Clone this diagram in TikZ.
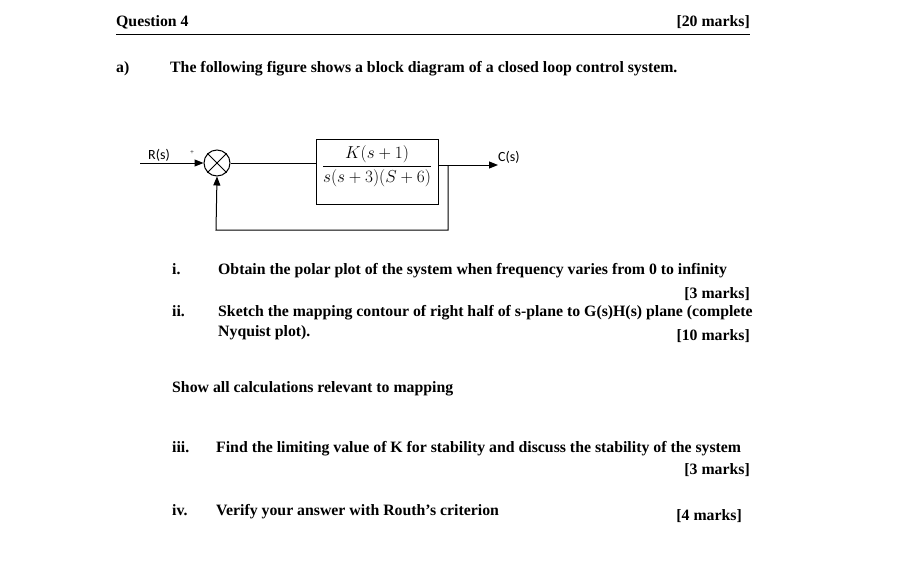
\documentclass[tikz,border=0pt]{standalone}
\usepackage{amsmath}
\usepackage{fontspec}
\setmainfont{Liberation Serif}
\newfontfamily\labfont{Carlito}
\usetikzlibrary{arrows.meta}
\begin{document}
\begin{tikzpicture}[x=1pt,y=-1pt,
  txt/.style={anchor=base west,inner sep=0pt,font=\fontsize{15.8}{18}\selectfont\bfseries},
  lab/.style={anchor=base west,inner sep=0pt,font=\labfont\fontsize{14}{16}\selectfont},
  sig/.style={line width=1pt,-{Triangle[length=9pt,width=7pt]}},
  ln/.style={line width=1pt}]
\useasboundingbox[fill=white] (0,0) rectangle (899,570);
\node[txt] (q) at (116,27) {Question 4};
\node[txt,anchor=base east] (m) at (750,27) {[20 marks]};
\draw[line width=0.8pt] (116,34) -- (750,34);
\node[txt] (a) at (116,72) {a)};
\node[txt] (t) at (170,72) {The following figure shows a block diagram of a closed loop control system.};
% block diagram
\coordinate (in) at (140,163);
\node[draw,circle,minimum size=26pt,inner sep=0pt,line width=1pt] (sum) at (217,163) {};
\draw[line width=1pt] (sum.north west) -- (sum.south east) (sum.north east) -- (sum.south west);
\node[draw,line width=1pt,minimum width=122pt,minimum height=65pt,inner sep=0pt] (G) at (377,172) {};
\node[font=\fontsize{17}{20}\selectfont] (frac) at (377,166) {$\dfrac{K(s+1)}{s(s+3)(S+6)}$};
\coordinate (br) at (448,165);
\coordinate (out) at (498,165);
\coordinate (bot) at (216,230);
\draw[sig] (in) -- (sum.west);
\draw[ln] (sum.east) -- (G.west |- sum.east);
\draw[ln] (G.east |- br) -- (br);
\draw[sig] (br) -- (out);
\draw[sig] (br) -- (br |- bot) -- (bot) -- (sum.south);
\node[lab] (R) at (148,159) {R(s)};
\node[lab] (C) at (498,161) {C(s)};
\node[font=\scriptsize] (plus) at (192,153) {+};
% questions
\node[txt] (i) at (172,274) {i.};
\node[txt] (it) at (218,274) {Obtain the polar plot of the system when frequency varies from 0 to infinity};
\node[txt,anchor=base east] (im) at (750,298) {[3 marks]};
\node[txt] (ii) at (172,316) {ii.};
\node[txt] (iit) at (218,316) {Sketch the mapping contour of right half of s-plane to G(s)H(s) plane (complete};
\node[txt] (iit2) at (218,336) {Nyquist plot).};
\node[txt,anchor=base east] (iim) at (750,340) {[10 marks]};
\node[txt] (sh) at (172,392) {Show all calculations relevant to mapping};
\node[txt] (iii) at (172,452) {iii.};
\node[txt] (iiit) at (216,452) {Find the limiting value of K for stability and discuss the stability of the system};
\node[txt,anchor=base east] (iiim) at (750,474) {[3 marks]};
\node[txt] (iv) at (172,515) {iv.};
\node[txt] (ivt) at (216,515) {Verify your answer with Routh's criterion};
\node[txt,anchor=base east] (ivm) at (742,520) {[4 marks]};
\end{tikzpicture}
\end{document}
